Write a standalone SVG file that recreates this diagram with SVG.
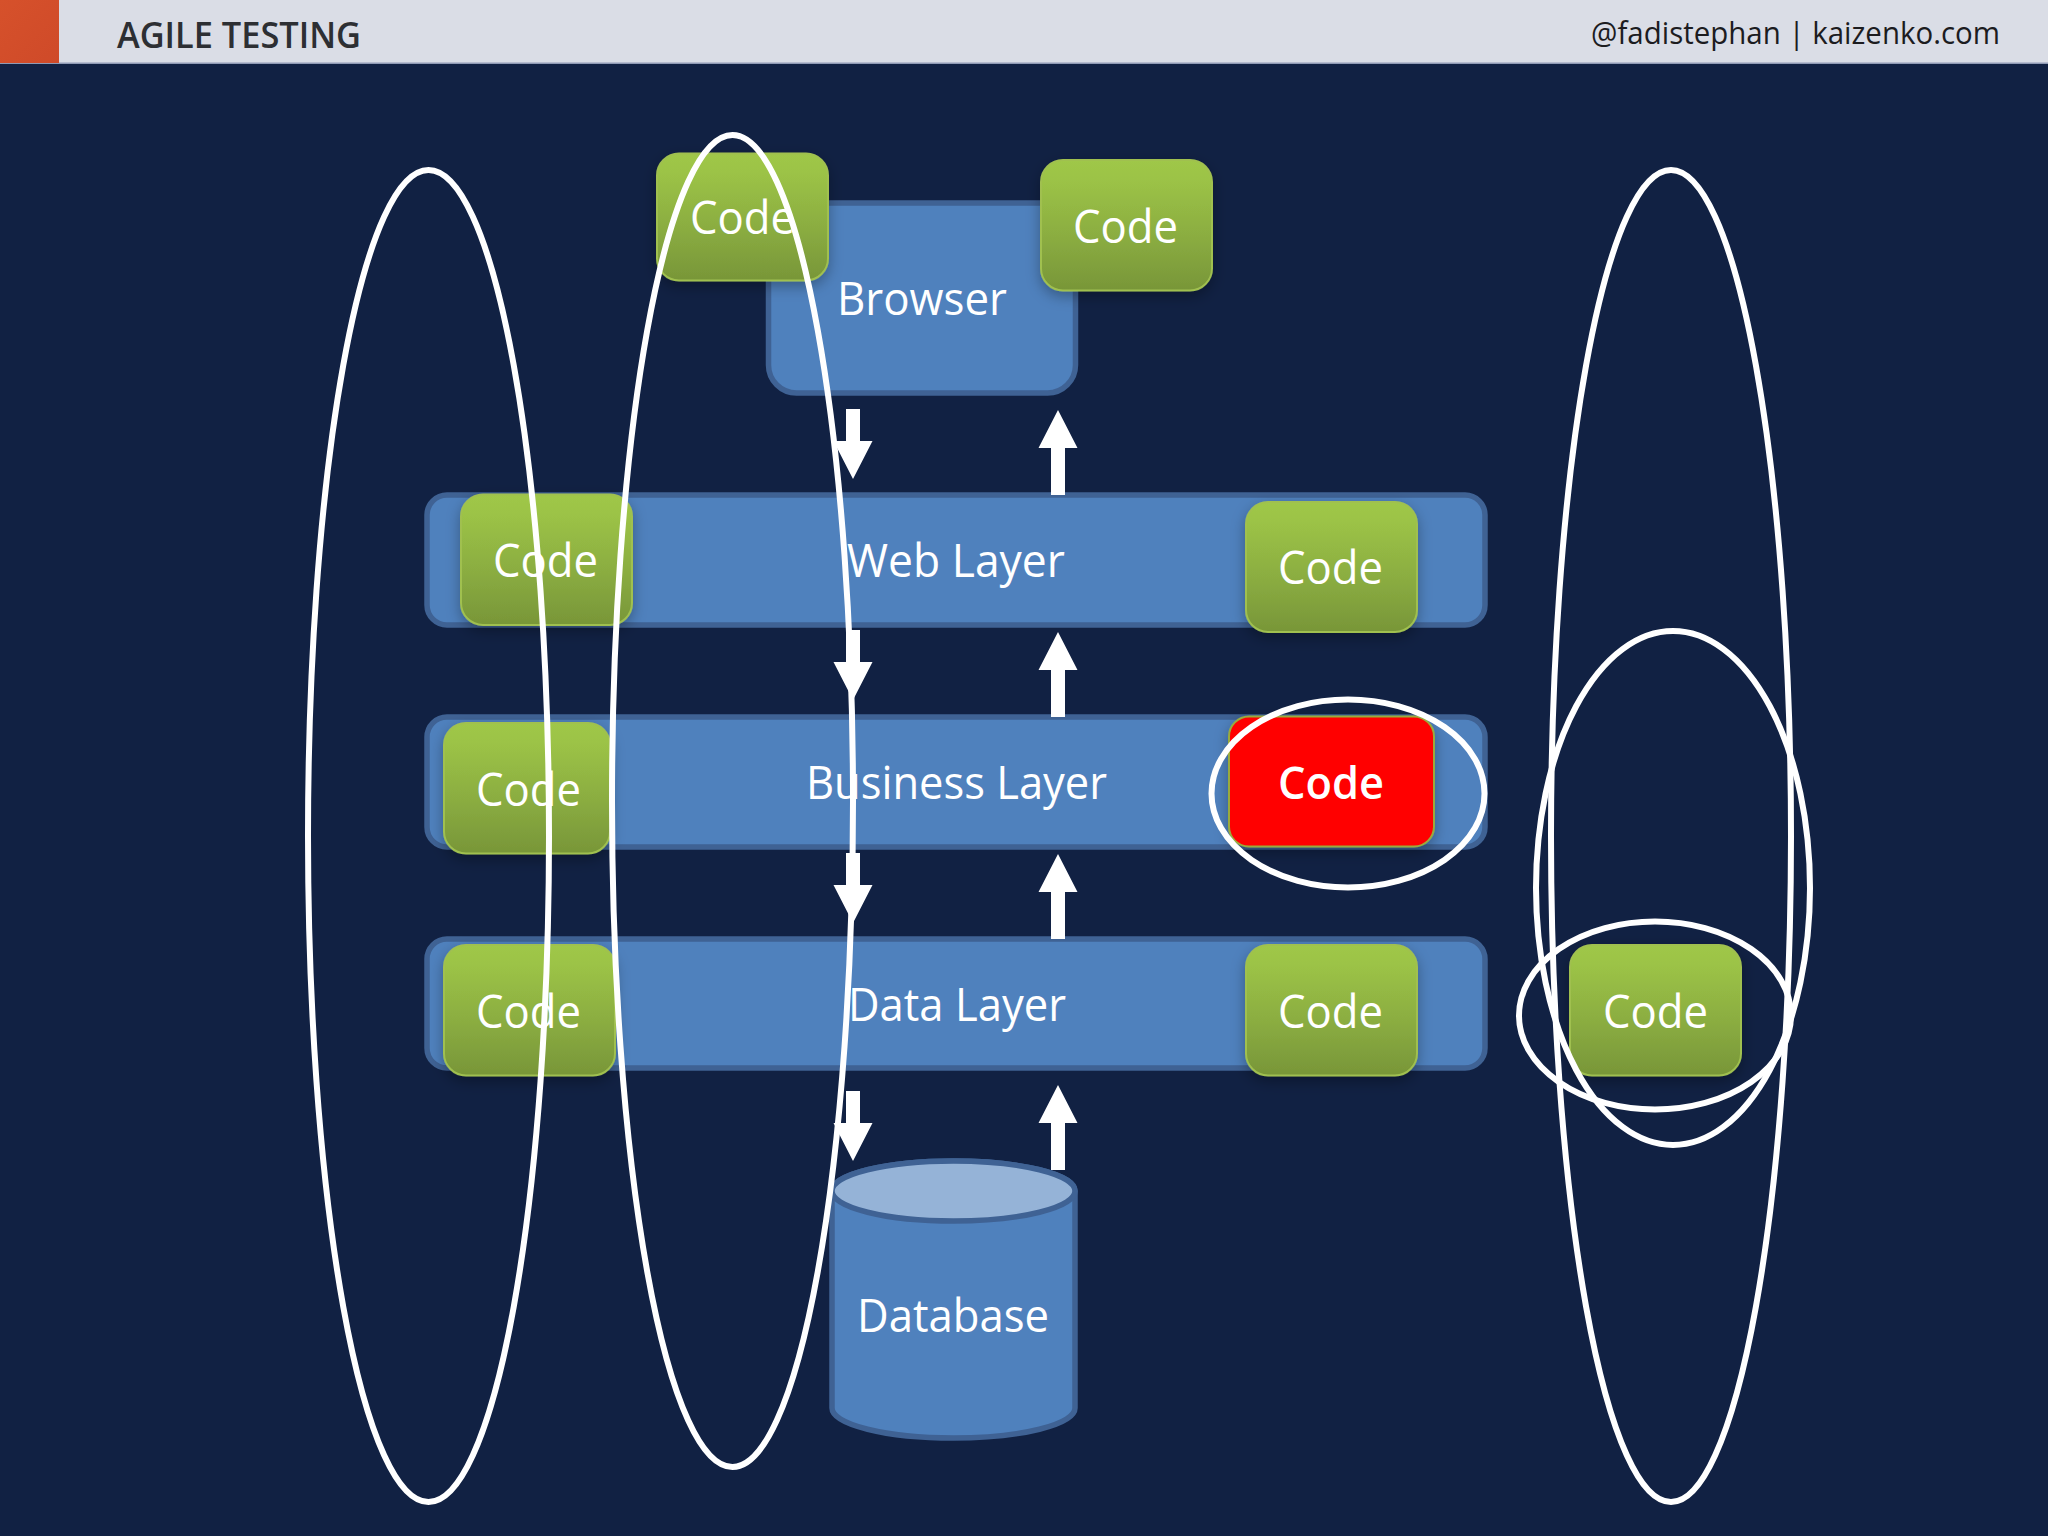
<svg xmlns="http://www.w3.org/2000/svg" width="2048" height="1536" viewBox="0 0 2048 1536">
<style>
.layer{fill:#4f81bd;stroke:#3f6294;stroke-width:5.5}
.code{fill:url(#green);stroke:#a0c050;stroke-width:2;filter:url(#shadow)}
.red{fill:#ff0000;stroke:#9aab3c;stroke-width:2;filter:url(#shadow)}
.t{font-family:"Open Sans","Noto Sans",sans-serif;font-size:46px;fill:#fff;text-anchor:start}
.ring{fill:none;stroke:#fff;stroke-width:6}
.arrow{fill:#fff}
</style>
<defs>
<linearGradient id="green" x1="0" y1="0" x2="0" y2="1"><stop offset="0" stop-color="#9fc748"/><stop offset="0.15" stop-color="#9cc346"/><stop offset="0.6" stop-color="#8aac41"/><stop offset="1" stop-color="#789638"/></linearGradient>
<linearGradient id="orange" x1="0" y1="0" x2="1" y2="1"><stop offset="0" stop-color="#d6512b"/><stop offset="1" stop-color="#cf4a29"/></linearGradient>
<filter id="shadow" x="-15%" y="-15%" width="130%" height="135%"><feDropShadow dx="0" dy="5" stdDeviation="7" flood-color="#000" flood-opacity="0.3"/></filter>
<polygon id="down" class="arrow" points="-7,0 7,0 7,32 19.500,32 0,70 -19.500,32 -7,32"/>
<polygon id="up" class="arrow" points="-7,85 7,85 7,38 19.500,38 0,0 -19.500,38 -7,38"/>
</defs>
<rect width="2048" height="1536" fill="#112143"/>
<g id="header">
<rect width="2048" height="63" fill="#dadde6"/>
<rect y="62.500" width="2048" height="1.500" fill="#8f9ab5"/>
<rect width="59" height="63" fill="url(#orange)"/>
<text x="117" y="48" font-family="'Open Sans','Noto Sans',sans-serif" font-size="36" font-weight="600" fill="#2d2f33" textLength="244" lengthAdjust="spacingAndGlyphs">AGILE TESTING</text>
<text x="1591" y="44" font-family="'Open Sans','Noto Sans',sans-serif" font-size="31" fill="#1c1c1f" textLength="409" lengthAdjust="spacingAndGlyphs">@fadistephan | kaizenko.com</text>
</g>
<g id="browser">
<rect class="layer" x="768.500" y="203" width="307" height="190" rx="28"/>
<text class="t" x="837" y="315" textLength="170" lengthAdjust="spacingAndGlyphs">Browser</text>
</g>
<g id="web-layer">
<rect class="layer" x="427" y="495" width="1058" height="130" rx="20"/>
<text class="t" x="847" y="577" textLength="218" lengthAdjust="spacingAndGlyphs">Web Layer</text>
</g>
<g id="business-layer">
<rect class="layer" x="427" y="717" width="1058" height="130" rx="20"/>
<text class="t" x="806" y="799" textLength="301" lengthAdjust="spacingAndGlyphs">Business Layer</text>
</g>
<g id="data-layer">
<rect class="layer" x="427" y="939" width="1058" height="129" rx="20"/>
<text class="t" x="848" y="1021" textLength="218" lengthAdjust="spacingAndGlyphs">Data Layer</text>
</g>
<g id="database">
<path class="layer" d="M832 1191 V1408 A121.500 30 0 0 0 1075 1408 V1191 A121.500 30 0 0 0 832 1191 Z"/>
<ellipse cx="953.500" cy="1191" rx="121.500" ry="30" fill="#95b3d7" stroke="#3f6294" stroke-width="5.500"/>
<text class="t" x="857" y="1332" textLength="192" lengthAdjust="spacingAndGlyphs">Database</text>
</g>
<g id="code-browser-left"><rect class="code" x="657" y="153.500" width="171" height="127" rx="22"/><text class="t" x="690" y="234" textLength="105" lengthAdjust="spacingAndGlyphs">Code</text></g>
<g id="code-browser-right"><rect class="code" x="1041" y="160" width="171" height="130.500" rx="22"/><text class="t" x="1073" y="243" textLength="105" lengthAdjust="spacingAndGlyphs">Code</text></g>
<g id="code-web-left"><rect class="code" x="461" y="494.500" width="171" height="130.500" rx="22"/><text class="t" x="493" y="577" textLength="105" lengthAdjust="spacingAndGlyphs">Code</text></g>
<g id="code-web-right"><rect class="code" x="1246" y="502" width="171" height="130" rx="22"/><text class="t" x="1278" y="584" textLength="105" lengthAdjust="spacingAndGlyphs">Code</text></g>
<g id="code-business-left"><rect class="code" x="444" y="723" width="166" height="130.500" rx="22"/><text class="t" x="476" y="806" textLength="105" lengthAdjust="spacingAndGlyphs">Code</text></g>
<g id="code-business-red"><rect class="red" x="1229" y="716.500" width="205" height="130" rx="20"/><text class="t" x="1278" y="799" font-weight="600" textLength="106" lengthAdjust="spacingAndGlyphs">Code</text></g>
<g id="code-data-left"><rect class="code" x="444" y="945" width="171" height="130.500" rx="22"/><text class="t" x="476" y="1028" textLength="105" lengthAdjust="spacingAndGlyphs">Code</text></g>
<g id="code-data-right"><rect class="code" x="1246" y="945" width="171" height="130.500" rx="22"/><text class="t" x="1278" y="1028" textLength="105" lengthAdjust="spacingAndGlyphs">Code</text></g>
<g id="code-far-right"><rect class="code" x="1570" y="945" width="171" height="130.500" rx="22"/><text class="t" x="1603" y="1028" textLength="105" lengthAdjust="spacingAndGlyphs">Code</text></g>
<g id="connectors">
<use href="#down" x="853" y="409"/>
<use href="#down" x="853" y="630"/>
<use href="#down" x="853" y="853"/>
<use href="#down" x="853" y="1091"/>
<use href="#up" x="1058" y="410"/>
<use href="#up" x="1058" y="632"/>
<use href="#up" x="1058" y="854"/>
<use href="#up" x="1058" y="1085"/>
</g>
<g id="highlights">
<ellipse class="ring" cx="428.500" cy="836" rx="120.500" ry="666"/>
<ellipse class="ring" cx="732.500" cy="801" rx="120.500" ry="666"/>
<ellipse class="ring" cx="1671" cy="836" rx="120" ry="666"/>
<ellipse class="ring" cx="1673" cy="888" rx="137" ry="257"/>
<ellipse class="ring" cx="1655" cy="1015.500" rx="136" ry="94"/>
<ellipse class="ring" cx="1348" cy="793.500" rx="136.500" ry="94"/>
</g>
</svg>
